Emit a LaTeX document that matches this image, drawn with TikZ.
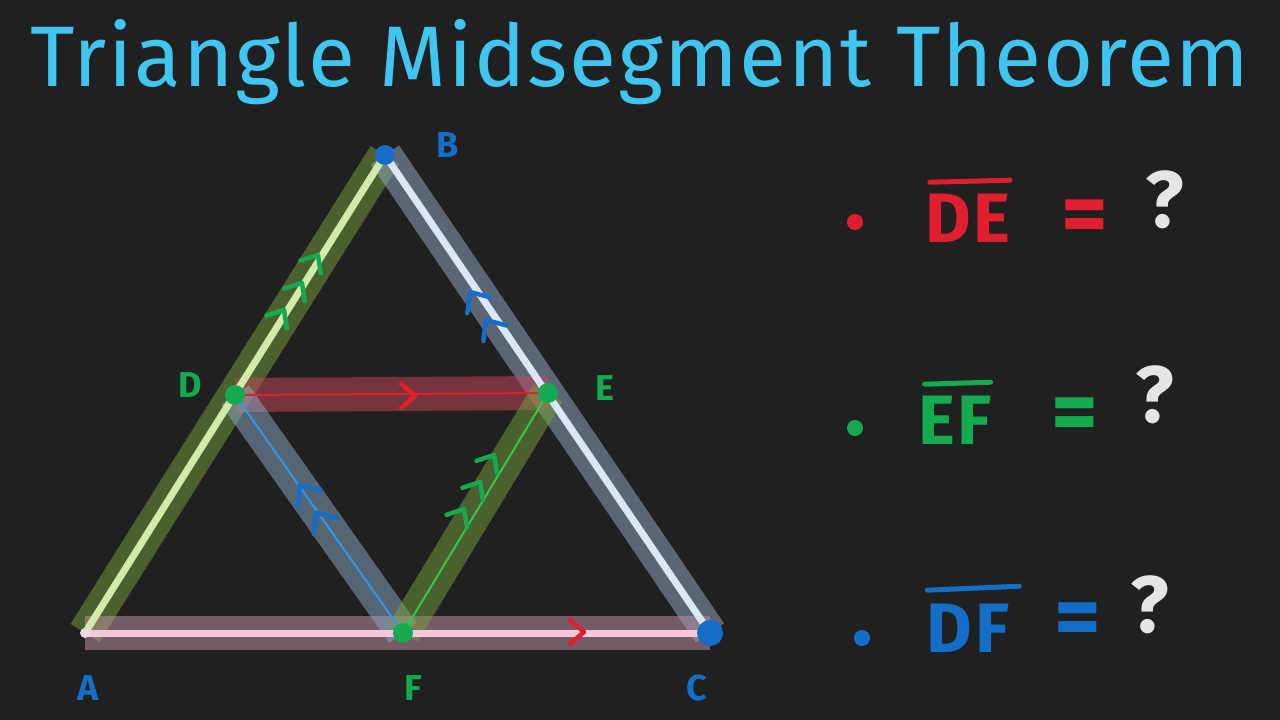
\documentclass[tikz,border=0pt]{standalone}
\usepackage{fontspec}
\setmainfont{Fira Sans}
\begin{document}
\begin{tikzpicture}[x=1pt,y=-1pt,
 band/.style={line width=34pt,opacity=0.5,line cap=butt},
 chev/.style={line width=4.5pt,line cap=round,line join=round},
 lab/.style={font=\fontsize{36}{38}\selectfont\bfseries},
 pt/.style={circle,fill,inner sep=0pt,minimum size=20pt}]
\definecolor{bg}{RGB}{32,32,32}
\definecolor{cy}{RGB}{64,196,240}
\definecolor{gr}{RGB}{20,170,80}
\definecolor{bl}{RGB}{20,110,200}
\definecolor{rd}{RGB}{225,30,45}
\fill[bg] (0,0) rectangle (1280,720);
\useasboundingbox (0,0) rectangle (1280,720);
\node[text=cy,font=\fontsize{86}{90}\selectfont\addfontfeatures{LetterSpace=2}] (title) at (640,62) {Triangle Midsegment Theorem};
\coordinate (A) at (85,633);
\coordinate (B) at (385,155);
\coordinate (C) at (710,633);
\coordinate (D) at (235,395);
\coordinate (E) at (548,393);
\coordinate (F) at (403,633);
% bands
\draw[band,color={rgb,255:red,120;green,160;blue,60}] (A)--(B);
\draw[band,color={rgb,255:red,150;green,170;blue,200}] (B)--(C);
\draw[band,color={rgb,255:red,200;green,150;blue,170}] (A)--(C);
\draw[band,color={rgb,255:red,200;green,70;blue,90}] (D)--(E);
\draw[band,color={rgb,255:red,140;green,170;blue,200}] (D)--(F);
\draw[band,color={rgb,255:red,120;green,160;blue,60}] (F)--(E);
% lines
\draw[line width=7pt,color={rgb,255:red,210;green,235;blue,170}] (A)--(B);
\draw[line width=7pt,color={rgb,255:red,220;green,230;blue,245}] (B)--(C);
\draw[line width=7pt,color={rgb,255:red,245;green,200;blue,220}] (A)--(C);
\draw[line width=2pt,rd] (D)--(E);
\draw[line width=2pt,color={rgb,255:red,50;green,150;blue,230}] (D)--(F);
\draw[line width=2pt,color={rgb,255:red,50;green,200;blue,80}] (F)--(E);
% points
\node[pt,bl] (pB) at (B) {};
\node[pt,bl,minimum size=26pt] (pC) at (C) {};
\node[pt,gr] (pD) at (D) {};
\node[pt,gr] (pE) at (E) {};
\node[pt,gr] (pF) at (F) {};
\node[pt,color={rgb,255:red,240;green,220;blue,230},minimum size=10pt] (pA) at (A) {};
% chevrons
\foreach \p in {(318,255),(302,283),(284,310)}
 \draw[chev,gr,shift={\p},rotate=58] (-14,-12)--(0,0)--(-14,12);
\foreach \p in {(494,455),(480,482),(464,509)}
 \draw[chev,gr,shift={\p},rotate=59] (-14,-12)--(0,0)--(-14,12);
\foreach \p in {(470,292),(486,320)}
 \draw[chev,bl,shift={\p},rotate=124] (-16,-14)--(0,0)--(-16,14);
\foreach \p in {(300,485),(316,513)}
 \draw[chev,bl,shift={\p},rotate=125] (-16,-14)--(0,0)--(-16,14);
\draw[chev,rd,shift={(415,396)}] (-14,-12)--(0,0)--(-14,12);
\draw[chev,rd,shift={(584,632)}] (-14,-12)--(0,0)--(-14,12);
% labels
\node[lab,bl] (lB) at (448,145) {B};
\node[lab,gr] (lD) at (190,385) {D};
\node[lab,gr] (lE) at (605,388) {E};
\node[lab,bl] (lA) at (88,688) {A};
\node[lab,gr] (lF) at (413,688) {F};
\node[lab,bl] (lC) at (697,688) {C};
% right side
\tikzset{eq/.style={font=\fontsize{70}{72}\selectfont\bfseries\addfontfeatures{LetterSpace=4}},
 q/.style={font=\fontsize{80}{82}\selectfont\bfseries,text=white!90!black},
 bar/.style={line width=5pt,line cap=round}}
\node[circle,fill=rd,inner sep=0pt,minimum size=16pt] (d1) at (855,222) {};
\node[eq,text=rd] (t1) at (968,218) {DE};
\draw[bar,rd] (t1.north west)++(8,-8) -- ++(80,-2);
\node[eq,text=rd,font=\fontsize{90}{90}\selectfont\bfseries] (e1) at (1085,222) {=};
\node[q] (q1) at (1165,200) {?};
\node[circle,fill=gr,inner sep=0pt,minimum size=16pt] (d2) at (855,428) {};
\node[eq,text=gr] (t2) at (955,420) {EF};
\draw[bar,gr] (t2.north west)++(10,-8) -- ++(66,-2);
\node[eq,text=gr,font=\fontsize{90}{90}\selectfont\bfseries] (e2) at (1075,420) {=};
\node[q] (q2) at (1155,395) {?};
\node[circle,fill=bl,inner sep=0pt,minimum size=16pt] (d3) at (862,638) {};
\node[eq,text=bl] (t3) at (968,628) {DF};
\draw[bar,bl] (t3.north west)++(4,-10) -- ++(92,-4);
\node[eq,text=bl,font=\fontsize{90}{90}\selectfont\bfseries] (e3) at (1078,625) {=};
\node[q] (q3) at (1150,605) {?};
\end{tikzpicture}
\end{document}
